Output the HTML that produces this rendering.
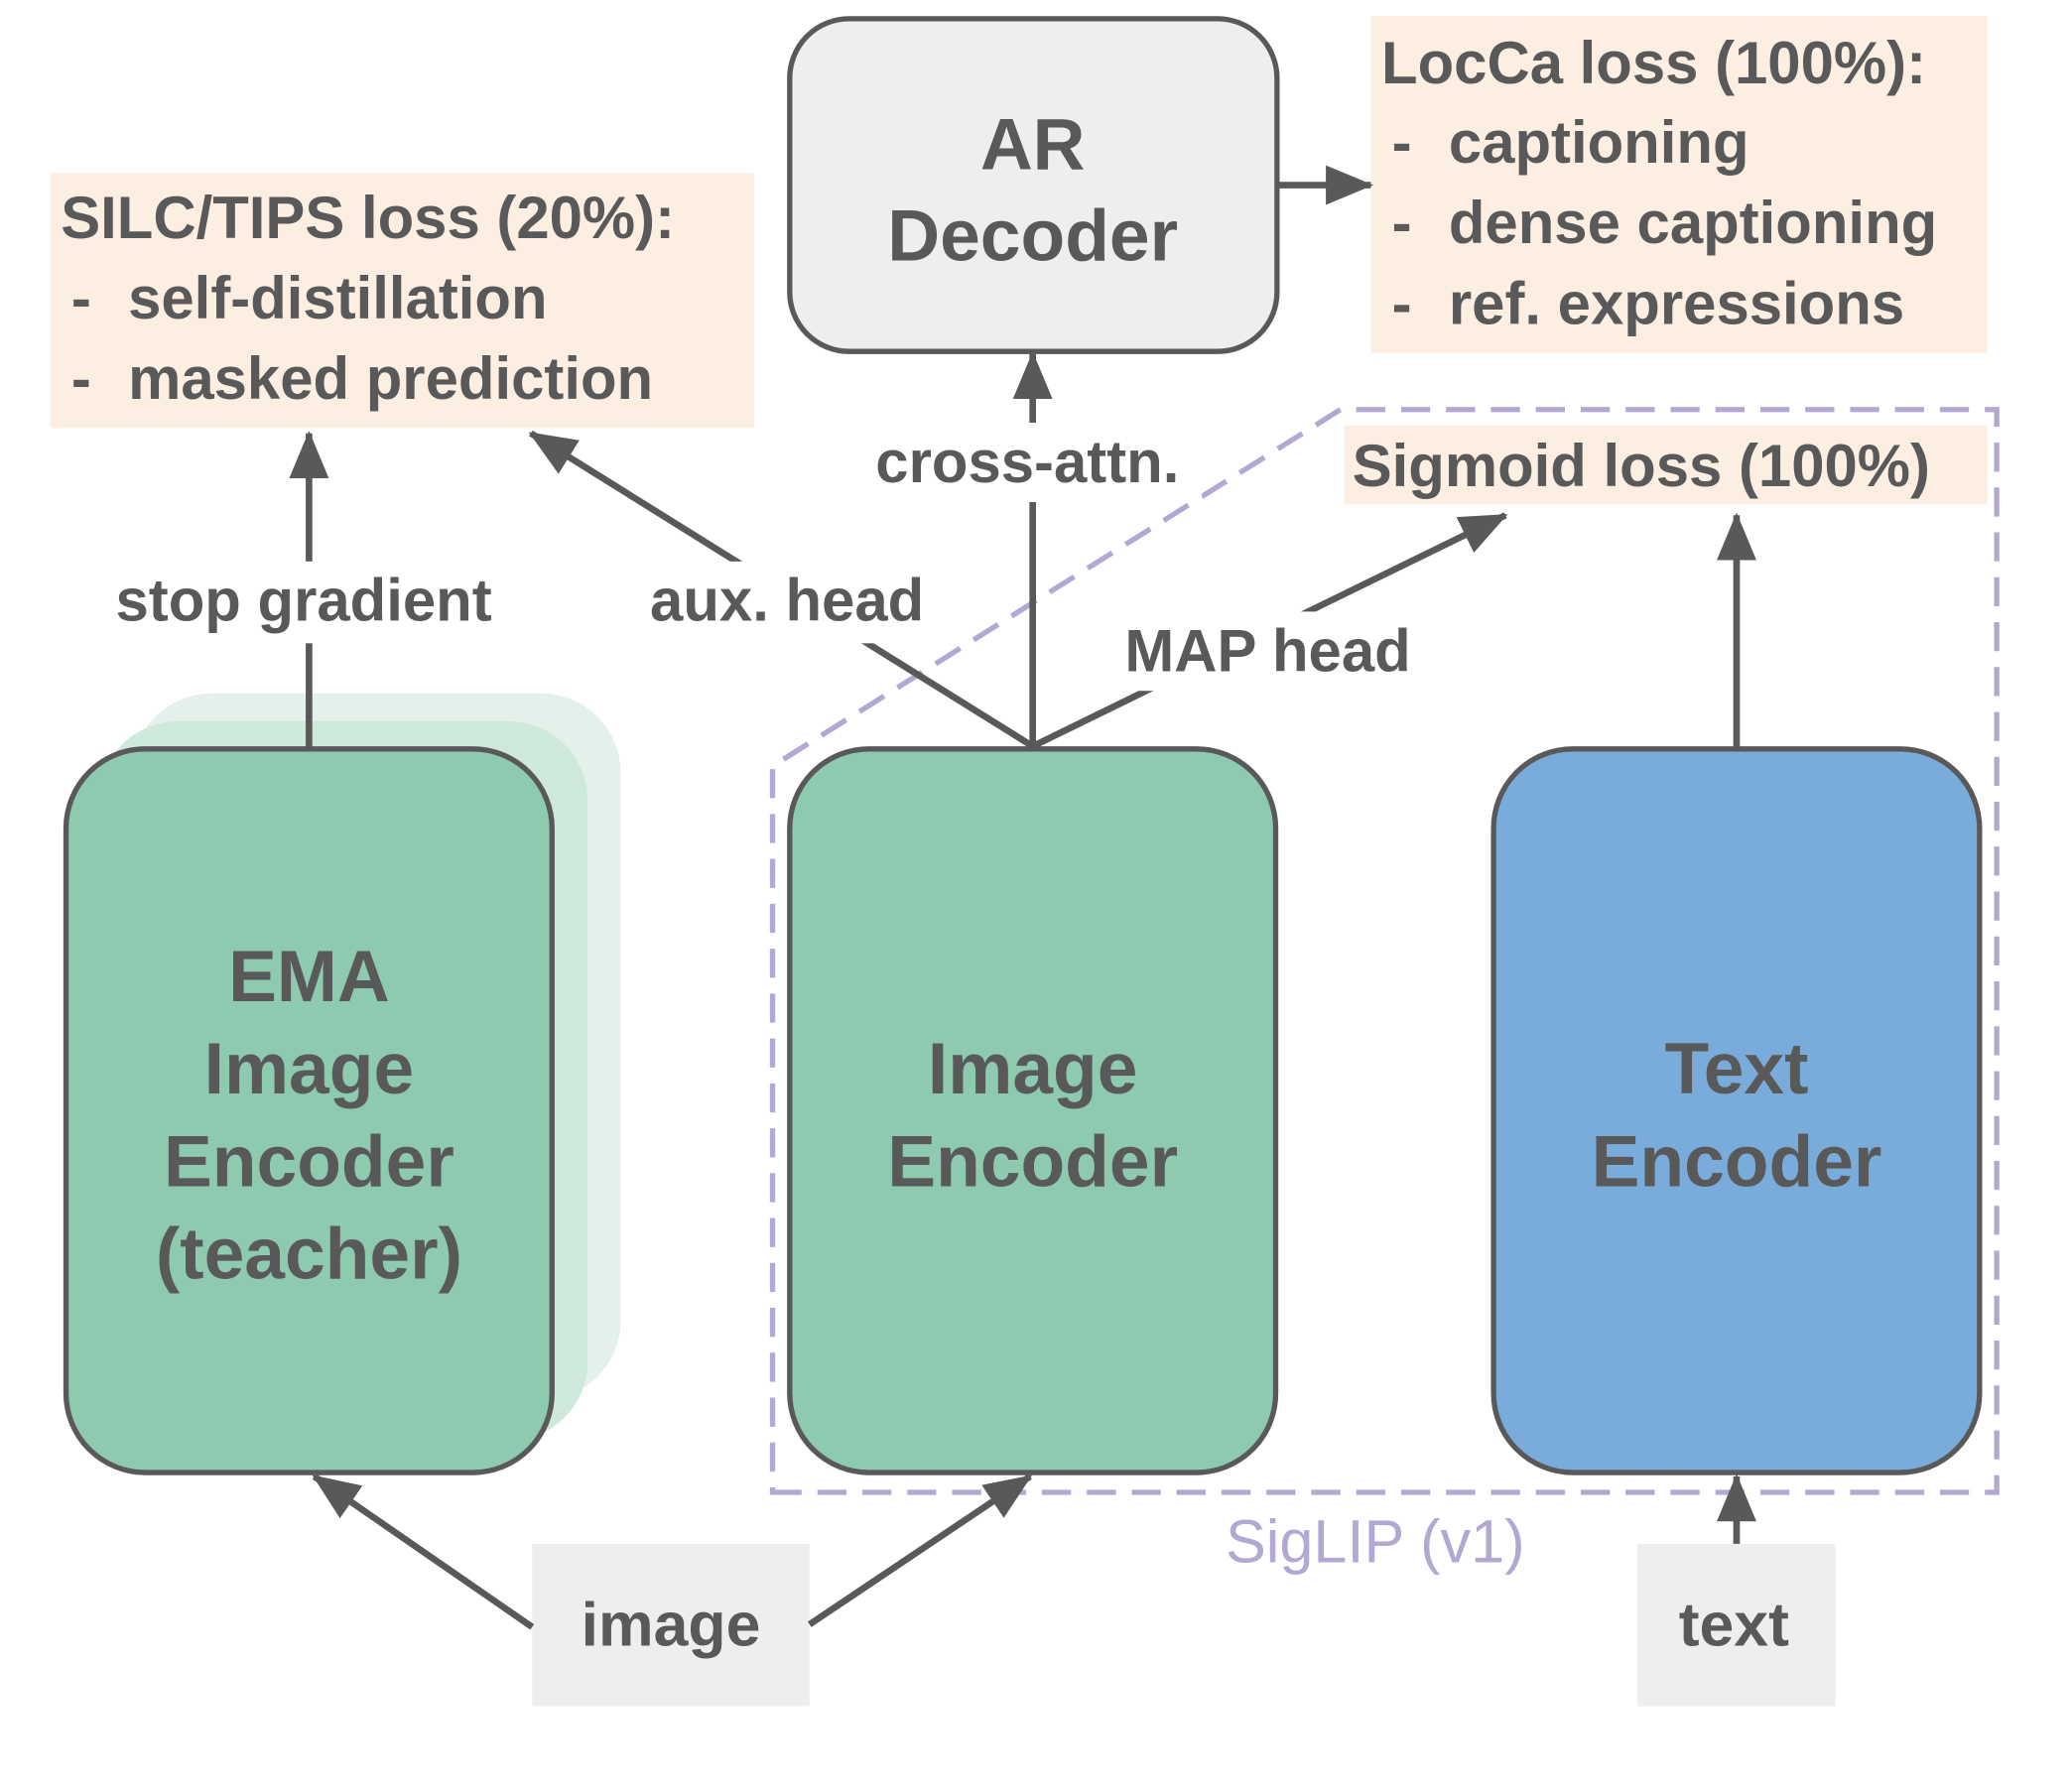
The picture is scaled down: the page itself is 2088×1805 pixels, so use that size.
<!DOCTYPE html>
<html><head><meta charset="utf-8"><style>
html,body{margin:0;padding:0;background:#fff;}
svg{display:block;}
text{font-family:"Liberation Sans",sans-serif;fill:#595959;font-weight:bold;}
</style></head><body>
<svg width="2088" height="1805" viewBox="0 0 1569 1356" xmlns="http://www.w3.org/2000/svg">
<defs>
<marker id="ah" viewBox="0 0 36 30" refX="34" refY="15" markerWidth="36" markerHeight="30" orient="auto" markerUnits="userSpaceOnUse">
<path d="M0,0 L36,15 L0,30 Z" fill="#595959"/>
</marker>
</defs>
<!-- loss boxes -->
<rect x="38" y="131" width="533" height="193" fill="#fdeee2"/>
<text x="46" y="180" font-size="45">SILC/TIPS loss (20%):</text>
<text x="54" y="241" font-size="45">-</text><text x="97" y="241" font-size="45">self-distillation</text>
<text x="54" y="302" font-size="45">-</text><text x="97" y="302" font-size="45">masked prediction</text>
<rect x="1038" y="12" width="467" height="255" fill="#fdeee2"/>
<text x="1046" y="63" font-size="45">LocCa loss (100%):</text>
<text x="1054" y="123" font-size="45">-</text><text x="1097" y="123" font-size="45">captioning</text>
<text x="1054" y="184" font-size="45">-</text><text x="1097" y="184" font-size="45">dense captioning</text>
<text x="1054" y="245" font-size="45">-</text><text x="1097" y="245" font-size="45">ref. expressions</text>
<rect x="1018" y="322" width="487" height="60" fill="#fdeee2"/>
<text x="1024" y="368" font-size="45">Sigmoid loss (100%)</text>
<!-- AR decoder -->
<rect x="598" y="14" width="369" height="252" rx="45" fill="#eeeeee" stroke="#595959" stroke-width="4"/>
<text x="782" y="128" font-size="55" text-anchor="middle">AR</text>
<text x="782" y="197" font-size="55" text-anchor="middle">Decoder</text>
<line x1="967" y1="140" x2="1038" y2="140" stroke="#595959" stroke-width="5" marker-end="url(#ah)"/>
<!-- dashed SigLIP -->
<path d="M585,1130 L1512,1130 L1512,310 L1015,310 L585,580 Z" fill="none" stroke="#b3a7d3" stroke-width="4" stroke-dasharray="22 12"/>
<text x="928" y="1183" font-size="46" style="fill:#b3a7d3;font-weight:normal">SigLIP (v1)</text>
<!-- EMA stack -->
<rect x="100" y="525" width="370" height="535" rx="60" fill="#e3f1ea"/>
<rect x="75" y="546" width="370" height="545" rx="60" fill="#cfe8dc"/>
<rect x="50" y="567" width="368" height="548" rx="60" fill="#8ecab0" stroke="#595959" stroke-width="4"/>
<text x="234" y="758" font-size="55" text-anchor="middle">EMA</text>
<text x="234" y="828" font-size="55" text-anchor="middle">Image</text>
<text x="234" y="898" font-size="55" text-anchor="middle">Encoder</text>
<text x="234" y="968" font-size="55" text-anchor="middle">(teacher)</text>
<rect x="598" y="567" width="368" height="548" rx="60" fill="#8ecab0" stroke="#595959" stroke-width="4"/>
<text x="782" y="828" font-size="55" text-anchor="middle">Image</text>
<text x="782" y="898" font-size="55" text-anchor="middle">Encoder</text>
<rect x="1131" y="567" width="368" height="548" rx="60" fill="#7aacdb" stroke="#595959" stroke-width="4"/>
<text x="1315" y="828" font-size="55" text-anchor="middle">Text</text>
<text x="1315" y="898" font-size="55" text-anchor="middle">Encoder</text>
<!-- inputs -->
<rect x="403" y="1169" width="210" height="123" fill="#eeeeee"/>
<text x="508" y="1246" font-size="47" text-anchor="middle">image</text>
<rect x="1240" y="1169" width="150" height="123" fill="#eeeeee"/>
<text x="1313" y="1246" font-size="47" text-anchor="middle">text</text>
<line x1="403" y1="1232" x2="238" y2="1118" stroke="#595959" stroke-width="5" marker-end="url(#ah)"/>
<line x1="613" y1="1230" x2="780" y2="1118" stroke="#595959" stroke-width="5" marker-end="url(#ah)"/>
<line x1="1315" y1="1169" x2="1315" y2="1118" stroke="#595959" stroke-width="5" marker-end="url(#ah)"/>
<!-- upward connectors -->
<line x1="234" y1="567" x2="234" y2="328" stroke="#595959" stroke-width="5" marker-end="url(#ah)"/>
<line x1="782" y1="565" x2="402" y2="328" stroke="#595959" stroke-width="5" marker-end="url(#ah)"/>
<line x1="782" y1="565" x2="1140" y2="390" stroke="#595959" stroke-width="5" marker-end="url(#ah)"/>
<line x1="782" y1="565" x2="782" y2="268" stroke="#595959" stroke-width="5" marker-end="url(#ah)"/>
<line x1="1315" y1="567" x2="1315" y2="390" stroke="#595959" stroke-width="5" marker-end="url(#ah)"/>
<!-- labels -->
<rect x="72" y="425" width="318" height="62" fill="#fff"/>
<text x="230" y="470" font-size="45" text-anchor="middle">stop gradient</text>
<rect x="480" y="425" width="232" height="62" fill="#fff"/>
<text x="596" y="470" font-size="45" text-anchor="middle">aux. head</text>
<rect x="648" y="320" width="262" height="60" fill="#fff"/>
<text x="778" y="365" font-size="45" text-anchor="middle">cross-attn.</text>
<rect x="836" y="463" width="248" height="60" fill="#fff"/>
<text x="960" y="508" font-size="45" text-anchor="middle">MAP head</text>
</svg>
</body></html>
